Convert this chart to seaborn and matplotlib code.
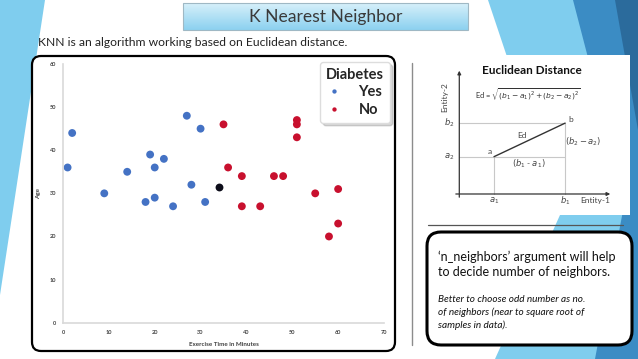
import numpy as np
import pandas as pd
import matplotlib.pyplot as plt
import seaborn as sns
from matplotlib.patches import Polygon, Rectangle, FancyBboxPatch

W, H = 638, 359

# scatter data
exercise_yes = [1, 2, 9, 14, 18, 19, 20, 20, 22, 24, 27, 28, 30, 31]
age_yes = [36, 44, 30, 35, 28, 39, 36, 29, 38, 27, 48, 32, 45, 28]
exercise_no = [35, 36, 39, 39, 43, 46, 48, 51, 51, 51, 55, 58, 60, 60]
age_no = [46, 36, 34, 27, 27, 34, 34, 47, 46, 43, 30, 20, 31, 23]
new_exercise = [34]
new_age = [31.5]
diabetes_order = ["Yes", "No"]
palette = {"Yes": "#4472c4", "No": "#c8102e"}
x_ticks = [0, 10, 20, 30, 40, 50, 60, 70]
y_ticks = [0, 10, 20, 30, 40, 50, 60]

# points of the euclidean distance sketch
point_a = (1.0, 1.0)
point_b = (3.05, 1.9)

df = pd.DataFrame({
    "Exercise": exercise_yes + exercise_no,
    "Age": age_yes + age_no,
    "Diabetes": ["Yes"] * len(exercise_yes) + ["No"] * len(exercise_no),
})

sns.set_style("white")
plt.rcParams["font.family"] = ["Lato", "DejaVu Sans"]
plt.rcParams["mathtext.fontset"] = "dejavusans"


def box(l, t, r, b):
    return [l / W, 1 - b / H, (r - l) / W, (b - t) / H]


fig = plt.figure(figsize=(6.38, 3.59), dpi=100)

# slide background (pixel coordinates)
bg = fig.add_axes([0, 0, 1, 1])
bg.axis("off")
bg.add_patch(Polygon([(0, 0), (45, 0), (0, 295)], color="#7fcdee", lw=0))
bg.add_patch(Polygon([(488, 0), (638, 0), (638, 359), (495, 359), (560, 215)], color="#7fcdee", lw=0))
bg.add_patch(Polygon([(573, 0), (638, 0), (638, 359), (595, 359), (625, 200)], color="#3b8cc4", lw=0))
bg.add_patch(Polygon([(615, 0), (638, 0), (638, 130)], color="#2b6b9c", lw=0))
bg.add_patch(Rectangle((410, 55), 220, 160, color="white", lw=0))

# title banner
top = np.array([0.84, 0.94, 0.98])
bottom = np.array([0.55, 0.82, 0.94])
grad = np.linspace(0, 1, 40)[:, None, None] * (bottom - top) + top
grad = np.repeat(grad, 2, axis=1)
bg.imshow(grad, extent=(183, 468, 30, 3), aspect="auto", origin="upper", zorder=1)
bg.add_patch(Rectangle((183, 3), 285, 27, fill=False, ec="#9fb8c4", lw=0.8, zorder=2))
bg.text(325.5, 17, "K Nearest Neighbor", fontsize=12.6, color="#3a3a3a",
        ha="center", va="center", zorder=3)
bg.text(38, 43, "KNN is an algorithm working based on Euclidean distance.",
        fontsize=8.7, color="#222222", ha="left", va="center")

# scatter panel frame
bg.add_patch(FancyBboxPatch((32, 56), 363, 295, boxstyle="round,pad=0,rounding_size=9",
                            fc="white", ec="black", lw=1.6))

# dividers
bg.plot([412, 412], [63, 345], color="#8c8c8c", lw=1)
bg.plot([428, 623], [225, 225], color="#555555", lw=0.9)

# euclidean sketch titles
bg.text(531.7, 70.7, "Euclidean Distance", fontsize=8.5, weight="bold",
        color="#111111", ha="center", va="center")
bg.text(475, 95, r"Ed = $\sqrt{(b_1 - a_1)^2 + (b_2 - a_2)^2}$", fontsize=5.4,
        color="#333333", ha="left", va="center")
bg.text(445, 97, "Entity-2", fontsize=6, color="#444444", rotation=90,
        ha="center", va="center")
bg.text(595, 201, "Entity-1", fontsize=6, color="#444444", ha="center", va="center")

# text box
bg.add_patch(FancyBboxPatch((427, 232), 205, 113, boxstyle="round,pad=0,rounding_size=14",
                            fc="white", ec="black", lw=2.2))
bg.text(438, 257, "\u2018n_neighbors\u2019 argument will help", fontsize=9,
        color="#111111", ha="left", va="center")
bg.text(438, 272, "to decide number of neighbors.", fontsize=9,
        color="#111111", ha="left", va="center")
for yy, line in zip([299, 312, 325],
                    ["Better to choose odd number as no.",
                     "of neighbors (near to square root of",
                     "samples in data)."]):
    bg.text(438, yy, line, fontsize=7.2, style="italic", color="#111111",
            ha="left", va="center")

bg.set_xlim(0, W)
bg.set_ylim(H, 0)

# euclidean distance sketch
dg = fig.add_axes(box(440, 60, 625, 210))
dg.patch.set_alpha(0)
dg.axis("off")
dg.set_xlim(-0.556, 4.775)
dg.set_ylim(-0.429, 3.592)
ax1, ax2 = point_a
bx1, bx2 = point_b
arrow = dict(arrowstyle="-|>", color="#333333", lw=0.9, mutation_scale=5)
dg.annotate("", xy=(4.43, 0), xytext=(-0.18, 0), arrowprops=arrow)
dg.annotate("", xy=(0, 3.38), xytext=(0, -0.16), arrowprops=arrow)
guide = dict(color="#c8c8c8", lw=0.8)
dg.plot([0, bx1], [bx2, bx2], **guide)
dg.plot([0, bx1], [ax2, ax2], **guide)
dg.plot([ax1, ax1], [0, ax2], **guide)
dg.plot([bx1, bx1], [0, bx2], **guide)
dg.plot([ax1, bx1], [ax2, bx2], color="#333333", lw=1)
lab = dict(fontsize=6, color="#444444", ha="center", va="center")
dg.text(ax1 - 0.12, ax2 + 0.14, "a", **lab)
dg.text(bx1 + 0.15, bx2 + 0.1, "b", **lab)
dg.text(ax1, -0.18, r"$a_1$", **lab)
dg.text(bx1, -0.18, r"$b_1$", **lab)
dg.text(-0.28, ax2, r"$a_2$", **lab)
dg.text(-0.28, bx2, r"$b_2$", **lab)
dg.text(1.8, 1.56, "Ed", **lab)
dg.text(2.0, 0.82, r"$(b_1$ - $a_1)$", **lab)
dg.text(3.56, 1.41, r"$(b_2 - a_2)$", **lab)

# scatter chart
ax = fig.add_axes(box(63, 64, 384, 322.7))
ax.patch.set_alpha(0)
sns.scatterplot(data=df, x="Exercise", y="Age", hue="Diabetes", hue_order=diabetes_order,
                palette=palette, s=32, linewidth=0, ax=ax)
sns.scatterplot(x=new_exercise, y=new_age, color="#0d0d1a", s=32, linewidth=0,
                legend=False, ax=ax)
ax.set_xlim(0, 70)
ax.set_ylim(0, 60)
ax.set_xticks(x_ticks)
ax.set_yticks(y_ticks)
ax.tick_params(length=0, labelsize=4, colors="#404040", pad=5)
for t in ax.get_xticklabels() + ax.get_yticklabels():
    t.set_fontweight("bold")
ax.set_xlabel("Exercise Time in Minutes", fontsize=4.5, weight="bold", color="#404040", labelpad=5)
ax.set_ylabel("Age", fontsize=4.5, weight="bold", color="#404040", labelpad=6)
sns.despine(ax=ax)
for side in ["left", "bottom"]:
    ax.spines[side].set_color("#d9d9d9")
    ax.spines[side].set_linewidth(1.2)

leg = ax.legend(title="Diabetes", loc="upper right", bbox_to_anchor=(390 / W, 1 - 62 / H),
                bbox_transform=fig.transFigure, borderaxespad=0, frameon=True, fancybox=True,
                shadow={"color": "#999999", "alpha": 0.4},
                prop={"weight": "bold", "size": 10.5},
                title_fontproperties={"weight": "bold", "size": 10.5},
                markerscale=0.55, handlelength=0.8, handletextpad=1.3,
                borderpad=0.4, labelspacing=0.25)
leg.get_frame().set_edgecolor("#dddddd")

fig.savefig("out.png", dpi=100)
